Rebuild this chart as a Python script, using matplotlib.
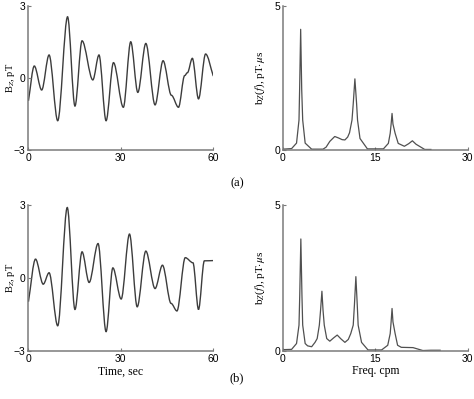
import matplotlib.pyplot as plt
from matplotlib.path import Path
from matplotlib.patches import PathPatch

# signal (a) : peaks and troughs (time in sec, field in pT)
t_a = [0, 1.9, 4.3, 6.7, 9.5, 12.7, 15.1, 17.4, 20.9, 22.9, 25.2, 27.6, 30.8,
       33.2, 35.5, 38.1, 41.1, 43.7, 46.4, 48.7, 50.7, 51.6, 53.2, 55.2, 57.5, 60]
b_a = [-0.95, 0.5, -0.5, 0.96, -1.78, 2.55, -1.17, 1.55, -0.08, 0.96, -1.78, 0.64, -1.22,
       1.51, -0.6, 1.44, -1.12, 0.72, -0.72, -1.22, 0.1, 0.22, 0.82, -0.87, 1.0, 0.08]

# signal (b)
t_b = [0, 2.3, 4.8, 6.7, 9.5, 12.6, 15.1, 17.4, 19.7, 22.6, 25.2, 27.4, 30.1,
       32.8, 35.3, 38.1, 41.1, 43.5, 46.3, 48.2, 50.9, 53.4, 55.2, 57.1, 60]
b_b = [-0.97, 0.78, -0.25, 0.22, -1.96, 2.9, -1.29, 1.08, -0.18, 1.42, -2.2, 0.42, -0.86,
       1.81, -1.18, 1.11, -0.43, 0.53, -1.04, -1.35, 0.84, 0.63, -1.29, 0.71, 0.72]

# spectra (freq in cpm, pT*us)
f_a = [0, 1.4, 2.2, 2.6, 2.7, 2.87, 3.04, 3.2, 3.6, 4.65, 6.5, 7.0, 7.6, 8.4, 9.0,
       9.6, 10.05, 10.5, 10.8, 11.2, 11.4, 11.67, 11.95, 12.1, 12.5, 13.7, 16.3,
       17.1, 17.4, 17.55, 17.7, 17.85, 18.2, 18.7, 19.7, 20.4, 21.0, 21.6, 23.0, 24.0]
s_a = [0.03, 0.05, 0.24, 1.04, 2.1, 4.19, 2.1, 1.04, 0.24, 0.03, 0.03, 0.1, 0.3, 0.47, 0.42,
       0.36, 0.35, 0.45, 0.6, 1.04, 1.6, 2.47, 1.6, 1.04, 0.4, 0.04, 0.04,
       0.23, 0.58, 0.9, 1.27, 0.9, 0.58, 0.23, 0.13, 0.22, 0.32, 0.2, 0.02, 0.02]

f_b = [0, 1.4, 2.2, 2.6, 2.72, 2.9, 3.08, 3.2, 3.6, 4.0, 4.65, 5.2, 5.55, 5.9, 6.1, 6.32,
       6.5, 6.7, 7.1, 7.6, 8.2, 8.8, 9.4, 10.05, 10.6, 11.0, 11.4, 11.6, 11.83, 12.05,
       12.2, 12.75, 13.8, 16.0, 17.0, 17.4, 17.55, 17.7, 17.85, 18.2, 18.6, 19.2, 21.1,
       22.7, 24.0, 25.5]
s_b = [0.05, 0.06, 0.26, 0.89, 1.9, 3.84, 1.9, 0.89, 0.26, 0.18, 0.15, 0.3, 0.43, 0.89, 1.4, 2.05,
       1.4, 0.89, 0.43, 0.34, 0.45, 0.55, 0.42, 0.3, 0.4, 0.6, 0.89, 1.6, 2.55, 1.6,
       0.89, 0.3, 0.04, 0.04, 0.2, 0.6, 1.0, 1.46, 1.0, 0.6, 0.2, 0.13, 0.12,
       0.02, 0.03, 0.03]

line_col = '#3c3c3c'
spec_col = '#505050'
spine_col = '#7a7a7a'
serif = 'Liberation Serif'
sans = 'Liberation Sans'
plt.rcParams['mathtext.fontset'] = 'stix'


# smooth curve through the read peaks (flat tangent at each point)
def smooth(ax, x, y):
    verts = [(x[0], y[0])]
    codes = [Path.MOVETO]
    n = len(x)
    for i in range(n - 1):
        dx = (x[i + 1] - x[i]) / 3.0
        if i == 0:
            c1 = (x[0] + dx, y[0] + (y[1] - y[0]) / 3.0)
        else:
            c1 = (x[i] + dx, y[i])
        if i == n - 2:
            c2 = (x[i + 1] - dx, y[i + 1] - (y[i + 1] - y[i]) / 3.0)
        else:
            c2 = (x[i + 1] - dx, y[i + 1])
        verts += [c1, c2, (x[i + 1], y[i + 1])]
        codes += [Path.CURVE4] * 3
    ax.add_patch(PathPatch(Path(verts, codes), fill=False, color=line_col, lw=1.0))


def style(ax, xt, yt):
    for s in ['top', 'right']:
        ax.spines[s].set_visible(False)
    for s in ['left', 'bottom']:
        ax.spines[s].set_color(spine_col)
        ax.spines[s].set_linewidth(1.1)
    ax.set_xticks(xt)
    ax.set_yticks(yt)
    ax.set_xlim(xt[0], xt[-1])
    ax.set_ylim(yt[0], yt[-1])
    ax.tick_params(direction='in', length=2, width=0.8, color=spine_col, pad=2,
                   labelsize=7.5)
    for lab in ax.get_xticklabels() + ax.get_yticklabels():
        lab.set_family(sans)


fig = plt.figure(figsize=(4.74, 3.99), dpi=100)

ax1 = fig.add_axes([0.060, 0.624, 0.390, 0.361])
ax2 = fig.add_axes([0.597, 0.624, 0.390, 0.361])
ax3 = fig.add_axes([0.060, 0.120, 0.390, 0.366])
ax4 = fig.add_axes([0.597, 0.120, 0.390, 0.366])

for ax, t, b in [(ax1, t_a, b_a), (ax3, t_b, b_b)]:
    style(ax, [0, 30, 60], [-3, 0, 3])
    smooth(ax, t, b)
    ax.set_ylabel('B$_Z$, pT', family=serif, fontsize=7.5)
    ax.yaxis.set_label_coords(-0.06, 0.5)

for ax, f, s in [(ax2, f_a, s_a), (ax4, f_b, s_b)]:
    style(ax, [0, 15, 30], [0, 5])
    ax.plot(f, s, color=spec_col, lw=0.9)
    ax.set_ylabel('b$_Z$($f$), pT$\\cdot\\mu$s', family=serif, fontsize=8)
    ax.yaxis.set_label_coords(-0.085, 0.5)

ax3.set_xlabel('Time, sec', family=serif, fontsize=8.5, labelpad=1)
ax4.set_xlabel('Freq. cpm', family=serif, fontsize=8.5, labelpad=1)

fig.text(0.5, 1 - 183 / 399, '(a)', family=serif, fontsize=9, ha='center', va='center')
fig.text(0.5, 1 - 378 / 399, '(b)', family=serif, fontsize=9, ha='center', va='center')

plt.savefig('out.png', dpi=100)
